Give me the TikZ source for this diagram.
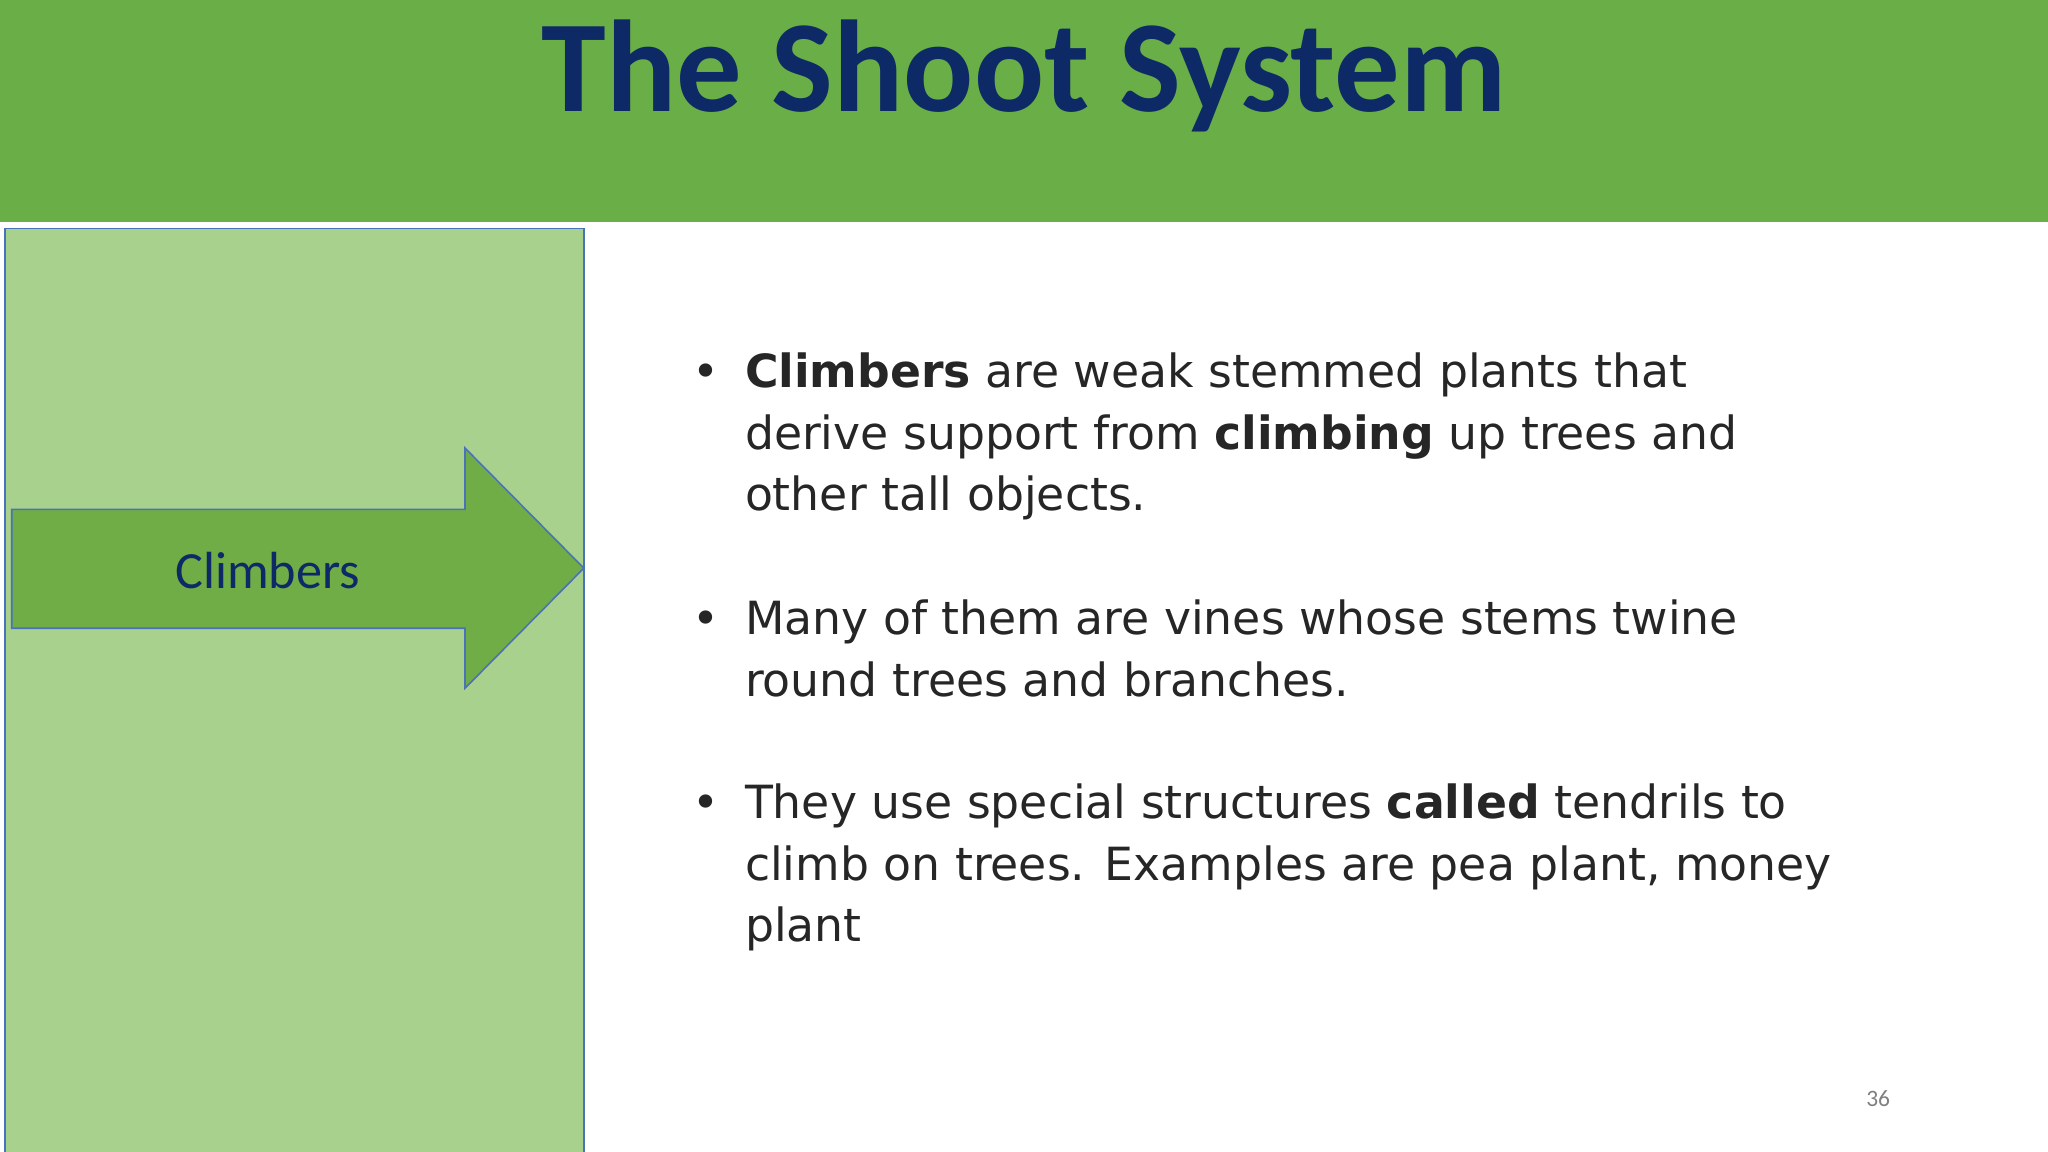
\documentclass[tikz,border=0pt]{standalone}
\usepackage{fontspec}
\setmainfont{DejaVu Sans}
\newfontfamily\calfont{Carlito}
\definecolor{hdr}{HTML}{6AAE47}
\definecolor{panel}{HTML}{A9D18E}
\definecolor{arr}{HTML}{70AD47}
\definecolor{edge}{HTML}{4A72B8}
\definecolor{navy}{HTML}{0E2A66}
\definecolor{txt}{HTML}{262626}
\tikzset{
  line/.style={anchor=base west,inner sep=0pt,text=txt,font=\fontsize{17.5}{21}\selectfont},
  bul/.style={anchor=base west,inner sep=0pt,text=txt,font=\fontsize{17.5}{21}\selectfont}
}
\begin{document}
\begin{tikzpicture}[x=0.5pt,y=-0.5pt]
\useasboundingbox (0,0) rectangle (1568,882);
\fill[white] (0,0) rectangle (1568,882);
\fill[hdr] (0,0) rectangle (1568,170);
\node[inner sep=0pt,text=navy,font=\calfont\bfseries\fontsize{50}{60}\selectfont] (title) at (784,58) {The Shoot System};
\draw[edge,fill=panel,line width=0.6pt] (4,175) rectangle (447,890);
\draw[edge,fill=arr,line width=0.6pt] (9,390) -- (356,390) -- (356,343) -- (447,435) -- (356,527) -- (356,481) -- (9,481) -- cycle;
\node[inner sep=0pt,text=navy,font=\calfont\fontsize{20}{24}\selectfont] (lab) at (205,437) {Climbers};
\node[bul] (b1) at (530,297) {•};
\node[line] (l1) at (570,297) {\textbf{Climbers} are weak stemmed plants that};
\node[line] (l2) at (570,344) {derive support from \textbf{climbing} up trees and};
\node[line] (l3) at (570,391) {other tall objects.};
\node[bul] (b2) at (530,486) {•};
\node[line] (l4) at (570,486) {Many of them are vines whose stems twine};
\node[line] (l5) at (570,533) {round trees and branches.};
\node[bul] (b3) at (530,627) {•};
\node[line] (l6) at (570,627) {They use special structures \textbf{called} tendrils to};
\node[line] (l7) at (570,674) {climb on trees. Examples are pea plant, money};
\node[line] (l8) at (570,721) {plant};
\node[inner sep=0pt,text=gray,font=\calfont\fontsize{9}{10}\selectfont] (pg) at (1438,841) {36};
\end{tikzpicture}
\end{document}
